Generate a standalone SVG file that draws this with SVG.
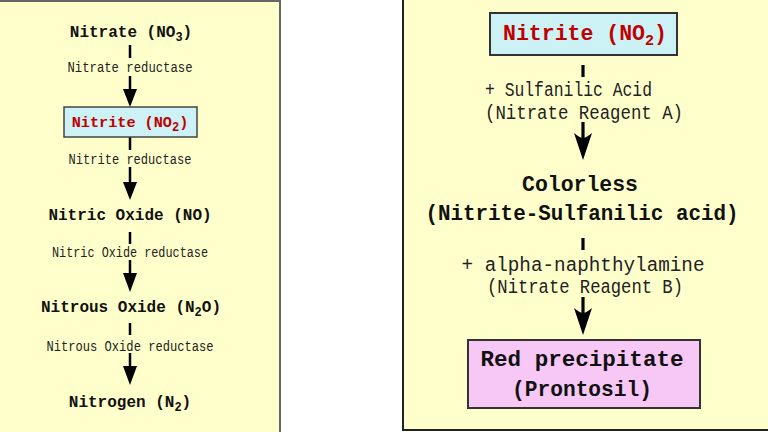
<svg xmlns="http://www.w3.org/2000/svg" width="768" height="432" viewBox="0 0 768 432">
<style>
.b{font-family:"Liberation Mono","Courier New",monospace;font-weight:bold;fill:#111;text-anchor:middle}
.s{font-family:"Liberation Mono","Courier New",monospace;fill:#222;text-anchor:middle;font-size:14.5px}
.m{font-family:"Liberation Mono","Courier New",monospace;fill:#222;font-size:20px}
.red{fill:#c00000}
.ln{stroke:#000;fill:none}
.hd{fill:#000}
</style>
<rect width="768" height="432" fill="#fff"/>
<g id="panel-left">
<rect x="-5" y="1" width="285" height="440" fill="#ffffcc" stroke="#666" stroke-width="2"/>
</g>
<g id="panel-right">
<rect x="403" y="-5" width="370" height="435" fill="#ffffcc" stroke="#222" stroke-width="2"/>
</g>
<g id="connectors">
<g stroke-width="2.5" class="ln">
<line x1="130" y1="45" x2="130" y2="58"/>
<line x1="130" y1="76" x2="130" y2="92"/>
<line x1="130" y1="137" x2="130" y2="150"/>
<line x1="130" y1="167" x2="130" y2="185"/>
<line x1="130" y1="232" x2="130" y2="244"/>
<line x1="130" y1="260" x2="130" y2="275"/>
<line x1="130" y1="323" x2="130" y2="335"/>
<line x1="130" y1="353" x2="130" y2="368"/>
</g>
<path class="hd" d="M123,89 L137,89 L130,107 Z"/>
<path class="hd" d="M123,182 L137,182 L130,200 Z"/>
<path class="hd" d="M123,273 L137,273 L130,292 Z"/>
<path class="hd" d="M123,366 L137,366 L130,385 Z"/>
<g stroke-width="3.2" class="ln">
<line x1="583" y1="65" x2="583" y2="77"/>
<line x1="583" y1="122" x2="583" y2="140"/>
<line x1="583" y1="238" x2="583" y2="250"/>
<line x1="583" y1="297" x2="583" y2="314"/>
</g>
<path class="hd" d="M574,133 Q580,138 583,138 Q586,138 592,133 L583,160 Z"/>
<path class="hd" d="M574,308 Q580,313 583,313 Q586,313 592,308 L583,335 Z"/>
</g>
<g id="labels-left">
<text class="s" x="130" y="72" textLength="125" lengthAdjust="spacingAndGlyphs">Nitrate reductase</text>
<text class="s" x="130" y="164" textLength="123" lengthAdjust="spacingAndGlyphs">Nitrite reductase</text>
<text class="s" x="130" y="257" textLength="156" lengthAdjust="spacingAndGlyphs">Nitric Oxide reductase</text>
<text class="s" x="130" y="351" textLength="167" lengthAdjust="spacingAndGlyphs">Nitrous Oxide reductase</text>
</g>
<g id="labels-right">
<text class="m" x="485" y="96" textLength="167" lengthAdjust="spacingAndGlyphs">+ Sulfanilic Acid</text>
<text class="m" x="584" y="119" text-anchor="middle" textLength="198" lengthAdjust="spacingAndGlyphs">(Nitrate Reagent A)</text>
<text class="m" x="583" y="271" text-anchor="middle" textLength="243" lengthAdjust="spacingAndGlyphs">+ alpha-naphthylamine</text>
<text class="m" x="585" y="293" text-anchor="middle" textLength="196" lengthAdjust="spacingAndGlyphs">(Nitrate Reagent B)</text>
</g>
<g id="node-nitrate">
<text class="b" x="131" y="37" font-size="16">Nitrate (NO<tspan font-size="12" dy="4">3</tspan><tspan dy="-4">)</tspan></text>
</g>
<g id="node-nitrite-left">
<rect x="64" y="107" width="133" height="30" fill="#ccf2f5" stroke="#444" stroke-width="1.5"/>
<text class="b red" x="130" y="127" font-size="15.2">Nitrite (NO<tspan font-size="12" dy="4">2</tspan><tspan dy="-4">)</tspan></text>
</g>
<g id="node-nitric-oxide">
<text class="b" x="130" y="220" font-size="16">Nitric Oxide (NO)</text>
</g>
<g id="node-nitrous-oxide">
<text class="b" x="131" y="312" font-size="16">Nitrous Oxide (N<tspan font-size="12" dy="4">2</tspan><tspan dy="-4">O)</tspan></text>
</g>
<g id="node-nitrogen">
<text class="b" x="130" y="407" font-size="16">Nitrogen (N<tspan font-size="12" dy="4">2</tspan><tspan dy="-4">)</tspan></text>
</g>
<g id="node-nitrite-right">
<rect x="490" y="13" width="187" height="42" fill="#ccf2f5" stroke="#333" stroke-width="2"/>
<text class="b red" x="585" y="40" font-size="21.5">Nitrite (NO<tspan font-size="15" dy="5">2</tspan><tspan dy="-5">)</tspan></text>
</g>
<g id="node-colorless">
<text class="b" x="580" y="191" font-size="22" textLength="116" lengthAdjust="spacingAndGlyphs">Colorless</text>
<text class="b" x="582" y="220" font-size="22" textLength="313" lengthAdjust="spacingAndGlyphs">(Nitrite-Sulfanilic acid)</text>
</g>
<g id="node-red-precipitate">
<rect x="468" y="340" width="232" height="68" fill="#f7c8f5" stroke="#333" stroke-width="2"/>
<text class="b" x="582" y="366" font-size="22.5" textLength="203" lengthAdjust="spacingAndGlyphs">Red precipitate</text>
<text class="b" x="582" y="396" font-size="22" textLength="140" lengthAdjust="spacingAndGlyphs">(Prontosil)</text>
</g>
</svg>
